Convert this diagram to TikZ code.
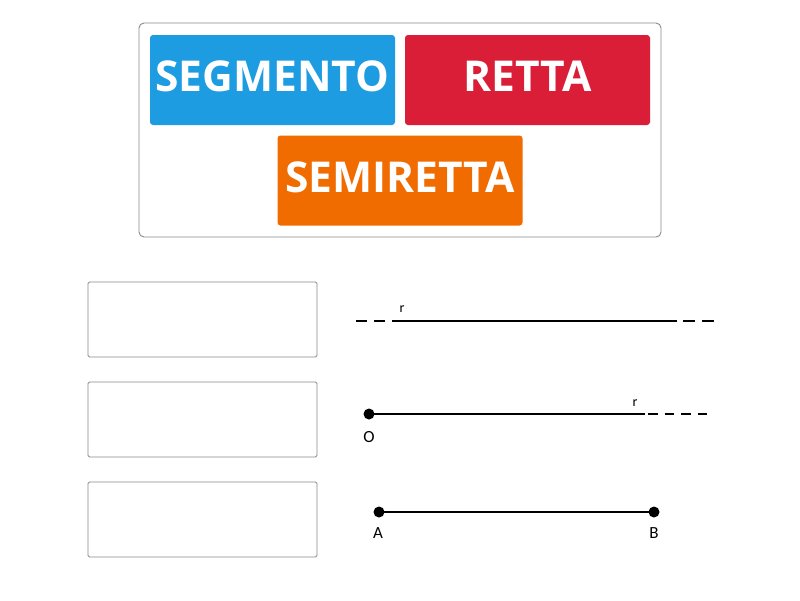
\documentclass[tikz,border=0pt]{standalone}
\usepackage{fontspec}
\setmainfont{Open Sans}
\newfontfamily\calib{Carlito}
\definecolor{segblue}{HTML}{1E9CE2}
\definecolor{retred}{HTML}{DA1E37}
\definecolor{semorange}{HTML}{F06C00}
\definecolor{frame}{HTML}{8A8A8A}
\begin{document}
\begin{tikzpicture}[x=1pt,y=-1pt,
  card/.style={rounded corners=3pt, minimum width=245pt, minimum height=90pt, inner sep=0pt},
  cardtext/.style={text=white, font=\fontsize{42.5}{44}\selectfont\bfseries, inner sep=0pt},
  slot/.style={draw=frame, line width=0.8pt, rounded corners=1.5pt, minimum width=229pt, minimum height=75pt, inner sep=0pt},
  dot/.style={circle, fill=black, inner sep=0pt, minimum size=11pt},
  geo/.style={line width=1.3pt},
  geodash/.style={line width=1.3pt, dash pattern=on 10pt off 7pt},
  lbl/.style={font=\calib\fontsize{17}{18}\selectfont, inner sep=0pt},
  slbl/.style={font=\calib\fontsize{14}{15}\selectfont, inner sep=0pt}]
\useasboundingbox (0,0) rectangle (800,600);
\fill[white] (0,0) rectangle (800,600);
\node[draw=frame, line width=0.9pt, rounded corners=5pt, minimum width=522pt, minimum height=214pt, inner sep=0pt] (panel) at (400,130) {};
\node[card, fill=segblue] (seg) at (272.5,80) {};
\node[card, fill=retred] (ret) at (527.5,80) {};
\node[card, fill=semorange] (sem) at (400,180.5) {};
\node[cardtext] (segt) at (272.5,76) {SEGMENTO};
\node[cardtext] (rett) at (527.5,76) {RETTA};
\node[cardtext] (semt) at (400,177) {SEMIRETTA};
\node[slot] (s1) at (202.5,319.5) {};
\node[slot] (s2) at (202.5,419.5) {};
\node[slot] (s3) at (202.5,519.5) {};
% retta
\coordinate (r1a) at (356,321);
\coordinate (r1b) at (395,321);
\coordinate (r1c) at (677,321);
\coordinate (r1e) at (683,321);
\coordinate (r1d) at (718,321);
\draw[geo, dash pattern=on 11pt off 7pt] (r1a) -- (r1b);
\draw[geo] (r1b) -- (r1c);
\draw[geo, dash pattern=on 12pt off 7pt] (r1e) -- (r1d);
\node[slbl] (rl1) at (402,309) {r};
% semiretta
\node[dot] (O) at (369,414) {};
\coordinate (r2b) at (645,414);
\coordinate (r2e) at (648,414);
\coordinate (r2c) at (710,414);
\draw[geo] (O.center) -- (r2b);
\draw[geo, dash pattern=on 9.5pt off 7pt] (r2e) -- (r2c);
\node[slbl] (rl2) at (635,403) {r};
\node[lbl] (Ol) at (369,437) {O};
% segmento
\node[dot] (A) at (379,512) {};
\node[dot] (B) at (654,512) {};
\draw[geo] (A.center) -- (B.center);
\node[lbl] (Al) at (378,533) {A};
\node[lbl] (Bl) at (654,533) {B};
\end{tikzpicture}
\end{document}
